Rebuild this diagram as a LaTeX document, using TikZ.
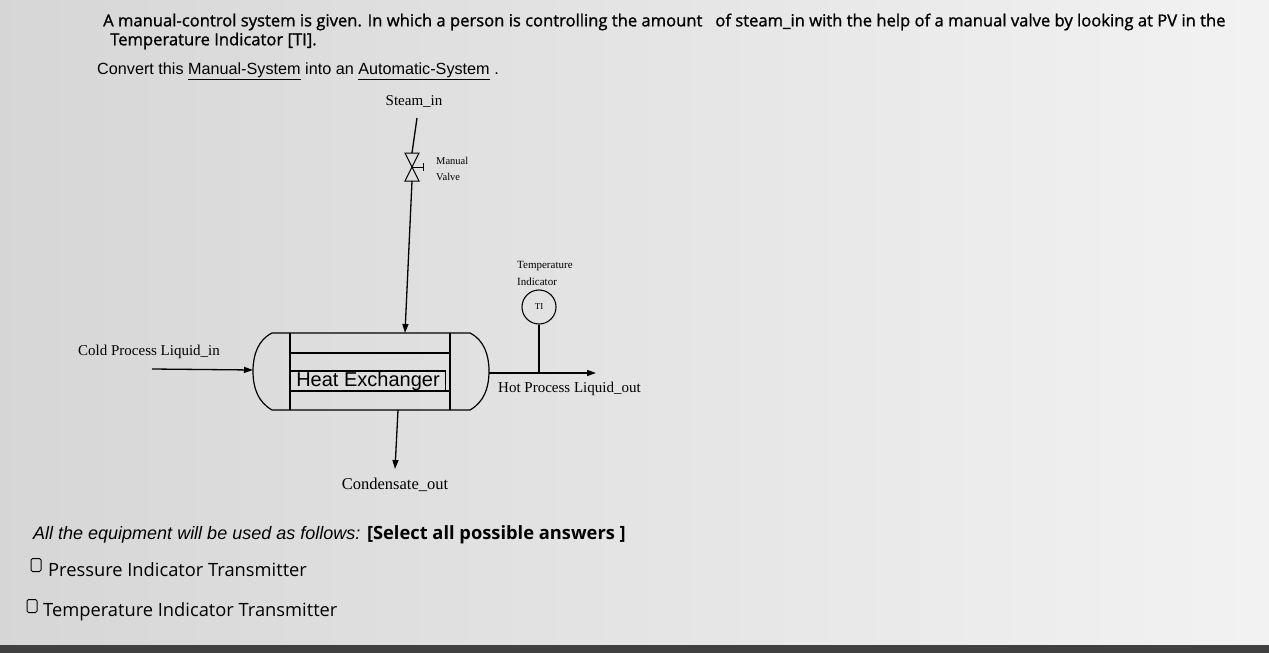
\documentclass[tikz,border=0pt]{standalone}
\usepackage{fontspec}
\setmainfont{Liberation Serif}
\newfontfamily\opensans{Open Sans}
\newfontfamily\ossemi{Open Sans}[FakeBold=1.2]
\newfontfamily\osbold{Open Sans}[UprightFont=* Bold]
\newfontfamily\arial{Liberation Sans}
\usetikzlibrary{arrows.meta,calc}
\begin{document}
\begin{tikzpicture}[x=1pt,y=-1pt,
  pipe/.style={line width=1.3pt,-{Triangle[length=9pt,width=6pt]}},
  lbl/.style={inner sep=0pt,font=\fontsize{15}{15}\selectfont},
  tiny/.style={inner sep=0pt,anchor=west,font=\fontsize{10.5}{10.5}\selectfont},
  eq/.style={line width=1.2pt}]
\useasboundingbox (0,0) rectangle (1269,653);
\shade[left color=black!16,right color=black!5] (0,0) rectangle (1269,653);
\fill[black!75] (0,645) rectangle (1269,653);
% header text
\node[anchor=west,inner sep=0pt,font=\ossemi\fontsize{16.6}{16.6}\selectfont] (t1) at (103,22) {A manual-control system is given. In which a person is controlling the amount\ \ \ of steam\_in with the help of a manual valve by looking at PV in the};
\node[anchor=west,inner sep=0pt,font=\ossemi\fontsize{16.6}{16.6}\selectfont] (t2) at (110,41) {Temperature Indicator [TI].};
\node[anchor=west,inner sep=0pt,font=\arial\fontsize{16.2}{16.2}\selectfont] (t3) at (97,71) {Convert this \underline{Manual-System} into an \underline{Automatic-System} .};
% labels
\node[lbl] (steam) at (414,101) {Steam\_in};
\node[tiny] (mv1) at (436,161) {Manual};
\node[tiny] (mv2) at (436,177) {Valve};
\node[tiny,font=\fontsize{11}{11}\selectfont] (ti1) at (517,266) {Temperature};
\node[tiny,font=\fontsize{11}{11}\selectfont] (ti2) at (517,282) {Indicator};
\node[lbl,anchor=west] (cold) at (78,352) {Cold Process Liquid\_in};
\node[lbl,anchor=west] (hot) at (498,389) {Hot Process Liquid\_out};
\node[lbl,font=\fontsize{16.5}{16.5}\selectfont] (cond) at (395,485) {Condensate\_out};
% heat exchanger
\draw[eq] (272,333) -- (470,333) .. controls (484,340) and (489,355) .. (489,371) .. controls (489,388) and (484,402) .. (470,410) -- (272,410) .. controls (258,402) and (253,388) .. (253,371) .. controls (253,355) and (258,340) .. (272,333) -- cycle;
\draw[eq] (290,333) -- (290,410) (450,333) -- (450,410);
\draw[eq] (290,353) -- (450,353) (290,391) -- (450,391);
\node[draw,line width=1.2pt,minimum width=155pt,minimum height=20pt,inner sep=0pt,font=\arial\fontsize{20}{20}\selectfont] (hx) at (368,381) {Heat Exchanger};
\coordinate (hxL) at (253,370);
\coordinate (hxR) at (489,373);
\coordinate (hxT) at (405,333);
\coordinate (hxB) at (398,410);
% steam line and valve
\coordinate (s0) at (417,118);
\coordinate (v) at (412,167);
\draw[line width=1.3pt] (s0) -- ($(v)+(0,-14)$);
\draw[pipe] ($(v)+(0,14)$) -- (hxT);
\draw[line width=1pt] (v) -- ++(-7,-14) -- ++(14,0) -- cycle;
\draw[line width=1pt] (v) -- ++(-7,14) -- ++(14,0) -- cycle;
\draw[line width=1pt] (v) -- ++(11,0) ++(0,-4) -- ++(0,8);
% cold in
\coordinate (c0) at (152,369);
\draw[pipe] (c0) -- (hxL);
% hot out + TI
\coordinate (h1) at (596,373);
\draw[pipe] (hxR) -- (h1);
\node[draw,circle,line width=1.1pt,minimum size=34pt,inner sep=0pt,font=\fontsize{9}{9}\selectfont] (ti) at (539,307) {TI};
\draw[line width=1.2pt] (ti.south) -- (ti.south |- hxR);
% condensate
\coordinate (c1) at (395,469);
\draw[pipe] (hxB) -- (c1);
% question
\node[anchor=west,inner sep=0pt] (q) at (33,535) {{\arial\itshape\fontsize{18}{18}\selectfont All the equipment will be used as follows: }{\osbold\fontsize{18.3}{18.3}\selectfont [Select all possible answers ]}};
\node[draw,line width=1pt,rounded corners=1.5pt,minimum width=10pt,minimum height=13pt,inner sep=0pt] (cb1) at (36,565) {};
\node[anchor=west,inner sep=0pt,font=\opensans\fontsize{18.3}{18.3}\selectfont] (a1) at (48,570) {Pressure Indicator Transmitter};
\node[draw,line width=1pt,rounded corners=1.5pt,minimum width=10pt,minimum height=13pt,inner sep=0pt] (cb2) at (32,606) {};
\node[anchor=west,inner sep=0pt,font=\opensans\fontsize{18.3}{18.3}\selectfont] (a2) at (43,612) {Temperature Indicator Transmitter};
\end{tikzpicture}
\end{document}
